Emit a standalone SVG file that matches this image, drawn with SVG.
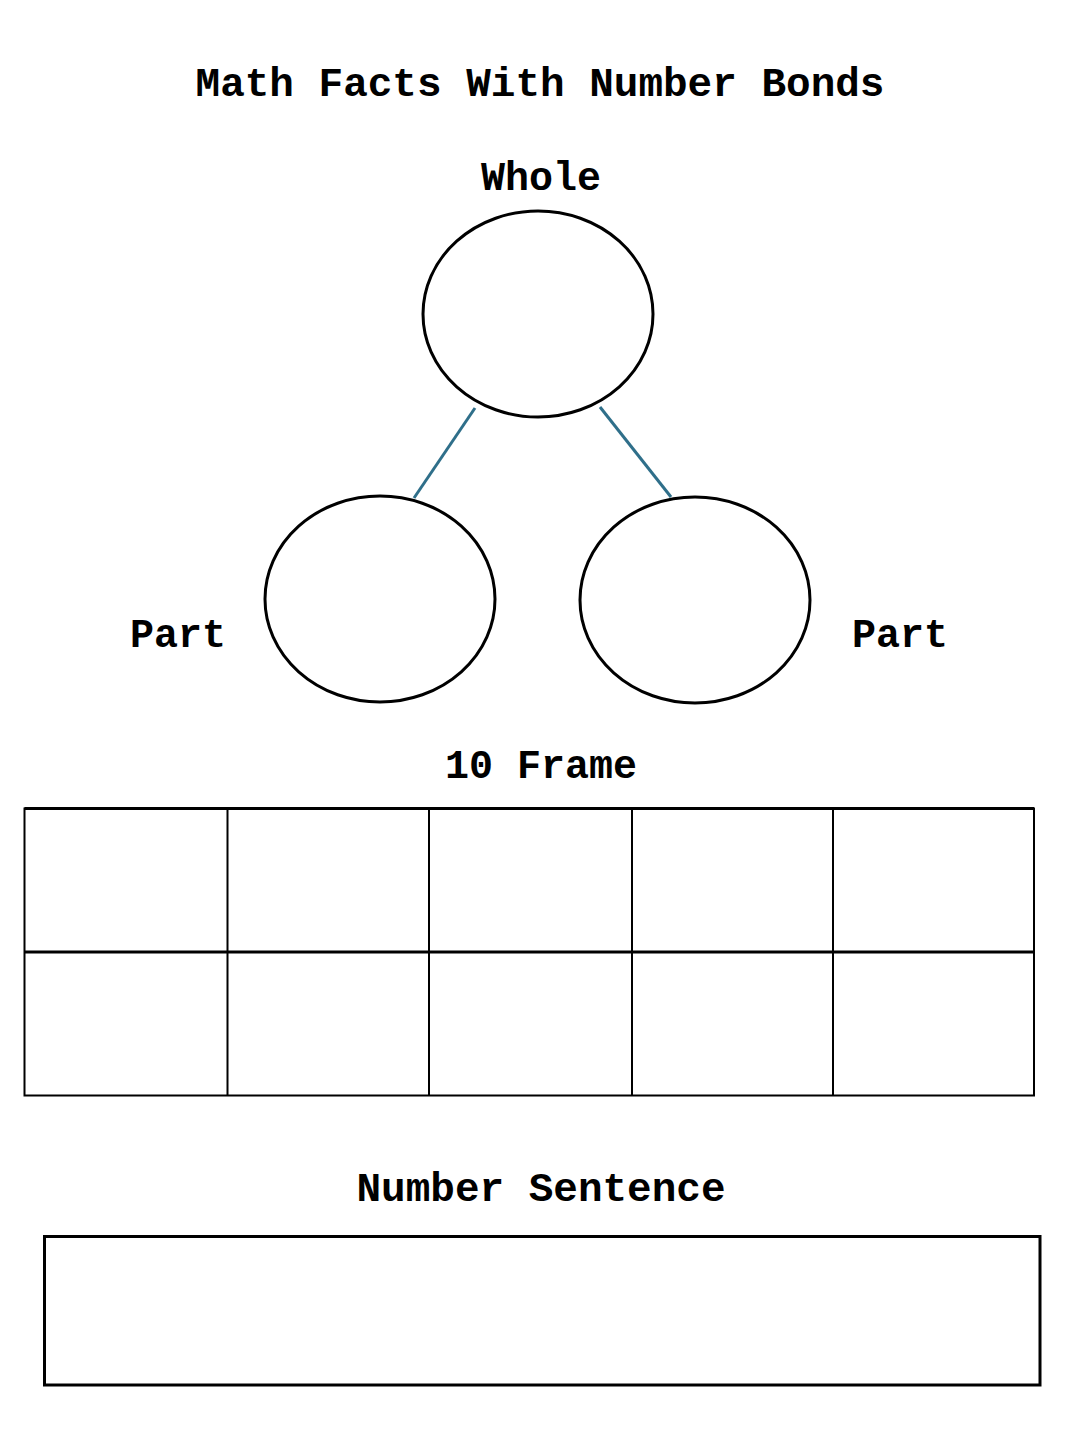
<svg xmlns="http://www.w3.org/2000/svg" width="1080" height="1444" viewBox="0 0 1080 1444">
<style>
.t{font-family:"Liberation Mono","Courier New",monospace;font-weight:bold;font-size:40px;fill:#000;text-anchor:middle}
.big{font-size:41px}
.c{fill:#fff;stroke:#000;stroke-width:3}
.g{fill:none;stroke:#000;stroke-width:2}
.conn{stroke:#2f6f8a;stroke-width:3;fill:none}
</style>
<rect width="1080" height="1444" fill="#fff"/>
<text class="t big" x="540" y="96">Math Facts With Number Bonds</text>
<g id="connectors">
<line class="conn" x1="475" y1="408" x2="414" y2="498"/>
<line class="conn" x1="600" y1="407" x2="671" y2="497"/>
</g>
<g id="whole">
<text class="t" x="541" y="190">Whole</text>
<ellipse class="c" cx="538" cy="314" rx="115" ry="103"/>
</g>
<g id="part-left">
<ellipse class="c" cx="380" cy="599" rx="115" ry="103"/>
<text class="t" x="178" y="647">Part</text>
</g>
<g id="part-right">
<ellipse class="c" cx="695" cy="600" rx="115" ry="103"/>
<text class="t" x="900" y="647">Part</text>
</g>
<g id="ten-frame">
<text class="t" x="541" y="778">10 Frame</text>
<rect class="g" x="24.5" y="808.5" width="1009.5" height="287"/>
<line x1="24.5" y1="808.5" x2="1034" y2="808.5" stroke="#000" stroke-width="3"/>
<line x1="24.5" y1="952" x2="1034" y2="952" stroke="#000" stroke-width="3"/>
<line class="g" x1="227.5" y1="808.5" x2="227.5" y2="1095.5"/>
<line class="g" x1="429" y1="808.5" x2="429" y2="1095.5"/>
<line class="g" x1="632" y1="808.5" x2="632" y2="1095.5"/>
<line class="g" x1="833" y1="808.5" x2="833" y2="1095.5"/>
</g>
<g id="number-sentence">
<text class="t big" x="541" y="1201">Number Sentence</text>
<rect x="44.5" y="1236.5" width="995.5" height="148.5" fill="#fff" stroke="#000" stroke-width="3"/>
</g>
</svg>
